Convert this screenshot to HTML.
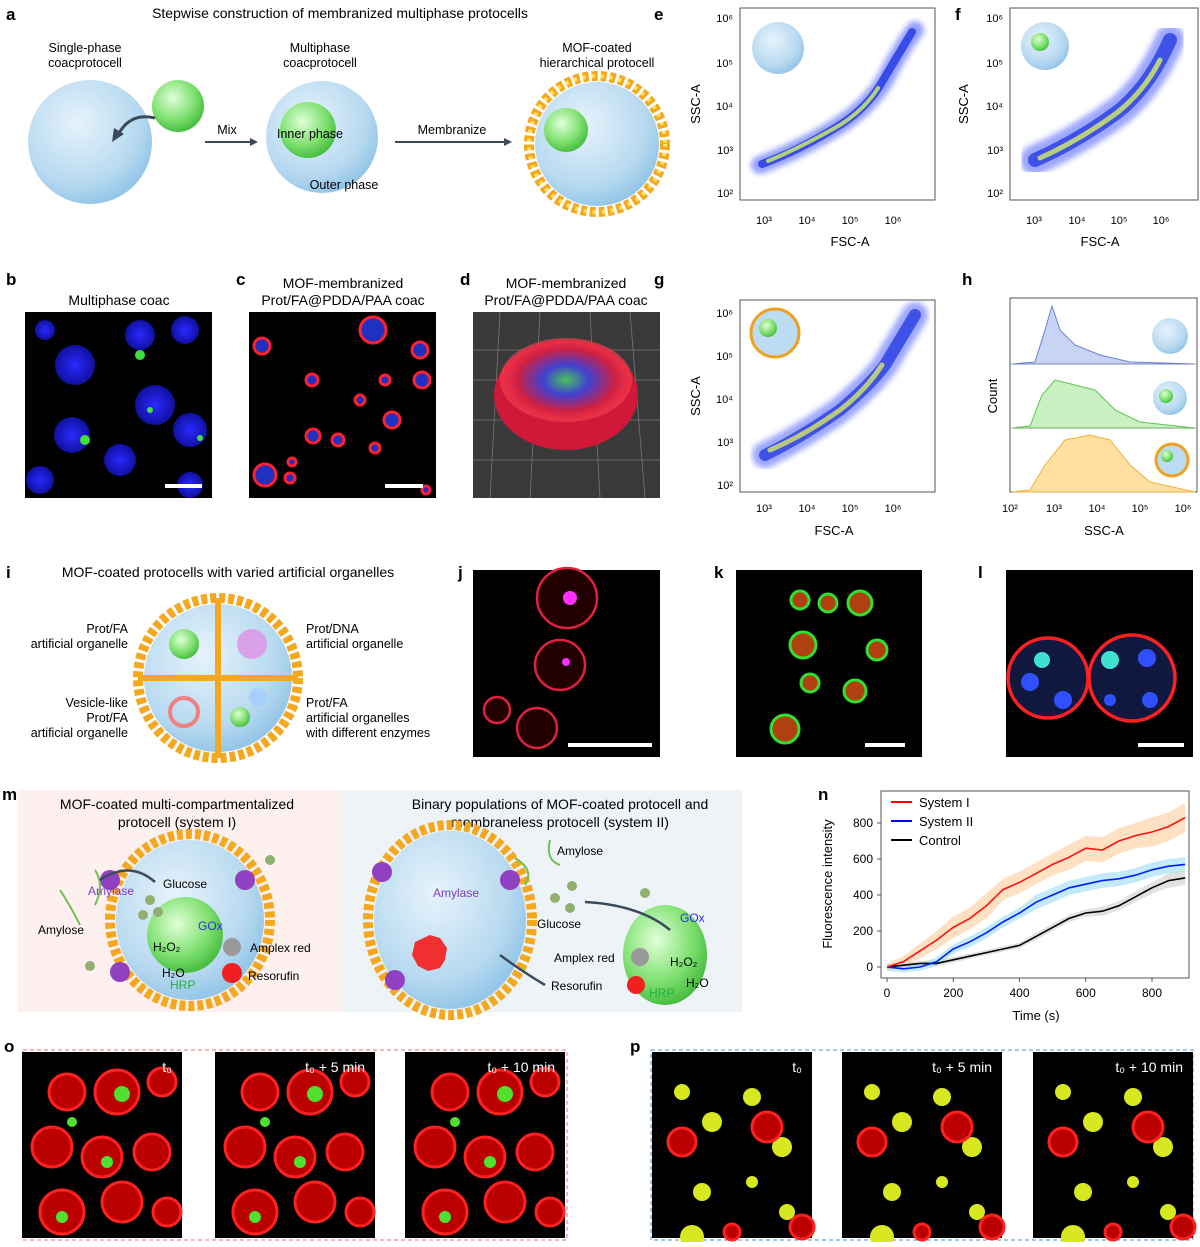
<!DOCTYPE html>
<html><head><meta charset="utf-8"><style>
body{margin:0;background:#fff;font-family:"Liberation Sans",sans-serif}
svg text{font-family:"Liberation Sans",sans-serif}
</style></head><body>
<svg width="1200" height="1242" viewBox="0 0 1200 1242" xmlns="http://www.w3.org/2000/svg">
<defs>
<radialGradient id="gb" cx="0.4" cy="0.35" r="0.7"><stop offset="0" stop-color="#e6f3fb"/><stop offset="0.7" stop-color="#b7d9f0"/><stop offset="1" stop-color="#8cc2e6"/></radialGradient>
<radialGradient id="gg" cx="0.4" cy="0.35" r="0.7"><stop offset="0" stop-color="#e0ffd8"/><stop offset="0.6" stop-color="#7fe070"/><stop offset="1" stop-color="#3fb83a"/></radialGradient>
<radialGradient id="bluecell"><stop offset="0" stop-color="#2a2aff"/><stop offset="1" stop-color="#1010a0"/></radialGradient>
<radialGradient id="disk" cx="0.5" cy="0.5" r="0.5"><stop offset="0" stop-color="#4cc060"/><stop offset="0.35" stop-color="#4040d0"/><stop offset="0.75" stop-color="#d02040"/><stop offset="1" stop-color="#ff4050" stop-opacity="0.6"/></radialGradient>
<filter id="blur"><feGaussianBlur stdDeviation="3"/></filter>
</defs>

<!-- Panel a -->
<g>
<text x="6" y="20" font-size="17" font-weight="bold">a</text>
<text x="340" y="18" font-size="14" text-anchor="middle">Stepwise construction of membranized multiphase protocells</text>
<text x="85" y="52" font-size="12.5" text-anchor="middle">Single-phase</text>
<text x="85" y="67" font-size="12.5" text-anchor="middle">coacprotocell</text>
<circle cx="90" cy="142" r="62" fill="url(#gb)"/>
<circle cx="178" cy="106" r="26" fill="url(#gg)"/>
<path d="M155 118 Q130 112 118 135" stroke="#3a4a5a" stroke-width="3" fill="none"/>
<polygon points="112,142 114,128 124,134" fill="#3a4a5a"/>
<text x="227" y="134" font-size="12.5" text-anchor="middle">Mix</text>
<line x1="205" y1="142" x2="252" y2="142" stroke="#3a4a5a" stroke-width="2"/><polygon points="258,142 250,138 250,146" fill="#3a4a5a"/>
<text x="320" y="52" font-size="12.5" text-anchor="middle">Multiphase</text>
<text x="320" y="67" font-size="12.5" text-anchor="middle">coacprotocell</text>
<circle cx="322" cy="137" r="56" fill="url(#gb)"/>
<circle cx="308" cy="130" r="28" fill="url(#gg)"/>
<text x="310" y="138" font-size="12.5" text-anchor="middle">Inner phase</text>
<text x="344" y="189" font-size="12.5" text-anchor="middle">Outer phase</text>
<text x="452" y="134" font-size="12.5" text-anchor="middle">Membranize</text>
<line x1="395" y1="142" x2="505" y2="142" stroke="#3a4a5a" stroke-width="2"/><polygon points="512,142 504,138 504,146" fill="#3a4a5a"/>
<text x="597" y="52" font-size="12.5" text-anchor="middle">MOF-coated</text>
<text x="597" y="67" font-size="12.5" text-anchor="middle">hierarchical protocell</text>
<circle cx="597" cy="144" r="68" fill="none" stroke="#f4a820" stroke-width="10" stroke-dasharray="6 3"/>
<circle cx="597" cy="144" r="68" fill="none" stroke="#ffe060" stroke-width="4" stroke-dasharray="3 6"/>
<circle cx="597" cy="144" r="62" fill="url(#gb)"/>
<circle cx="566" cy="130" r="22" fill="url(#gg)"/>
</g>

<!-- Panels e,f,g scatter -->
<g>
<text x="654" y="20" font-size="17" font-weight="bold">e</text>
<rect x="740" y="8" width="195" height="192" fill="#fff" stroke="#555"/>
<circle cx="778" cy="48" r="26" fill="url(#gb)"/>
<path d="M760 165 Q800 150 840 125 Q870 105 885 80 Q900 50 915 30" stroke="#3a50ff" stroke-width="18" fill="none" stroke-linecap="round" opacity="0.55" filter="url(#blur)"/>
<path d="M762 164 Q800 150 840 125 Q868 107 882 82 Q895 60 912 32" stroke="#2036e0" stroke-width="8" fill="none" stroke-linecap="round" opacity="0.8"/>
<path d="M768 161 Q800 148 840 125 Q865 109 878 88" stroke="#b0d080" stroke-width="4" fill="none" stroke-linecap="round"/>
<text x="700" y="104" font-size="13" transform="rotate(-90 700 104)" text-anchor="middle">SSC-A</text>
<text x="850" y="246" font-size="13" text-anchor="middle">FSC-A</text>
<g font-size="11" text-anchor="end"><text x="733" y="22">10⁶</text><text x="733" y="67">10⁵</text><text x="733" y="110">10⁴</text><text x="733" y="154">10³</text><text x="733" y="197">10²</text></g>
<g font-size="11" text-anchor="middle"><text x="764" y="224">10³</text><text x="807" y="224">10⁴</text><text x="850" y="224">10⁵</text><text x="893" y="224">10⁶</text></g>
</g>
<g>
<text x="955" y="20" font-size="17" font-weight="bold">f</text>
<rect x="1010" y="8" width="188" height="192" fill="#fff" stroke="#555"/>
<circle cx="1045" cy="46" r="24" fill="url(#gb)"/><circle cx="1040" cy="42" r="9" fill="url(#gg)"/>
<path d="M1035 160 Q1080 140 1120 110 Q1150 85 1170 40" stroke="#3a50ff" stroke-width="30" fill="none" stroke-linecap="round" opacity="0.5" filter="url(#blur)"/>
<path d="M1035 160 Q1080 140 1120 110 Q1150 85 1170 40" stroke="#2036e0" stroke-width="14" fill="none" stroke-linecap="round" opacity="0.75"/>
<path d="M1040 158 Q1080 140 1118 112 Q1145 90 1160 60" stroke="#b8cf80" stroke-width="5" fill="none" stroke-linecap="round"/>
<text x="968" y="104" font-size="13" transform="rotate(-90 968 104)" text-anchor="middle">SSC-A</text>
<text x="1100" y="246" font-size="13" text-anchor="middle">FSC-A</text>
<g font-size="11" text-anchor="end"><text x="1003" y="22">10⁶</text><text x="1003" y="67">10⁵</text><text x="1003" y="110">10⁴</text><text x="1003" y="154">10³</text><text x="1003" y="197">10²</text></g>
<g font-size="11" text-anchor="middle"><text x="1034" y="224">10³</text><text x="1077" y="224">10⁴</text><text x="1119" y="224">10⁵</text><text x="1161" y="224">10⁶</text></g>
</g>
<g>
<text x="654" y="285" font-size="17" font-weight="bold">g</text>
<rect x="740" y="300" width="195" height="192" fill="#fff" stroke="#555"/>
<circle cx="775" cy="333" r="24" fill="#bcdcf2" stroke="#f0a020" stroke-width="3"/><circle cx="768" cy="328" r="9" fill="url(#gg)"/>
<path d="M765 455 Q800 438 840 410 Q870 385 885 365 Q900 340 915 315" stroke="#3a50ff" stroke-width="26" fill="none" stroke-linecap="round" opacity="0.5" filter="url(#blur)"/>
<path d="M765 455 Q800 438 840 410 Q870 385 885 365 Q900 340 915 315" stroke="#2036e0" stroke-width="12" fill="none" stroke-linecap="round" opacity="0.75"/>
<path d="M770 450 Q805 435 840 410 Q866 390 882 365" stroke="#b8c880" stroke-width="5" fill="none" stroke-linecap="round"/>
<text x="700" y="396" font-size="13" transform="rotate(-90 700 396)" text-anchor="middle">SSC-A</text>
<text x="834" y="535" font-size="13" text-anchor="middle">FSC-A</text>
<g font-size="11" text-anchor="end"><text x="733" y="317">10⁶</text><text x="733" y="360">10⁵</text><text x="733" y="403">10⁴</text><text x="733" y="446">10³</text><text x="733" y="489">10²</text></g>
<g font-size="11" text-anchor="middle"><text x="764" y="512">10³</text><text x="807" y="512">10⁴</text><text x="850" y="512">10⁵</text><text x="893" y="512">10⁶</text></g>
</g>
<g>
<text x="962" y="285" font-size="17" font-weight="bold">h</text>
<rect x="1010" y="298" width="187" height="194" fill="#fff" stroke="#555"/>
<path d="M1012 364 L1035 362 L1045 330 L1052 306 L1060 330 L1075 345 L1100 355 L1130 362 L1195 364Z" fill="#c8d4f4" stroke="#6a80e0"/>
<path d="M1012 428 L1030 426 L1042 395 L1055 380 L1075 385 L1095 390 L1115 410 L1140 422 L1195 428Z" fill="#c8f0c0" stroke="#5ac850"/>
<path d="M1012 492 L1030 490 L1045 465 L1065 440 L1090 435 L1110 440 L1130 465 L1150 482 L1195 492Z" fill="#ffe0a0" stroke="#f0b040"/>
<line x1="1010" y1="364" x2="1197" y2="364" stroke="#888" stroke-width="0.6"/><line x1="1010" y1="428" x2="1197" y2="428" stroke="#888" stroke-width="0.6"/>
<circle cx="1170" cy="336" r="18" fill="url(#gb)"/>
<circle cx="1170" cy="398" r="17" fill="url(#gb)"/><circle cx="1166" cy="396" r="7" fill="url(#gg)"/>
<circle cx="1172" cy="460" r="16" fill="#bcdcf2" stroke="#f0a020" stroke-width="3"/><circle cx="1167" cy="456" r="6" fill="url(#gg)"/>
<text x="997" y="396" font-size="13" transform="rotate(-90 997 396)" text-anchor="middle">Count</text>
<text x="1104" y="535" font-size="13" text-anchor="middle">SSC-A</text>
<g font-size="11" text-anchor="middle"><text x="1010" y="512">10²</text><text x="1054" y="512">10³</text><text x="1097" y="512">10⁴</text><text x="1140" y="512">10⁵</text><text x="1183" y="512">10⁶</text></g>
</g>

<!-- b c d -->
<g>
<text x="6" y="285" font-size="17" font-weight="bold">b</text>
<text x="119" y="305" font-size="14" text-anchor="middle">Multiphase coac</text>
<rect x="25" y="312" width="187" height="186" fill="#000"/>
<g fill="url(#bluecell)"><circle cx="75" cy="365" r="20"/><circle cx="140" cy="335" r="15"/><circle cx="185" cy="330" r="14"/><circle cx="155" cy="405" r="20"/><circle cx="72" cy="435" r="18"/><circle cx="120" cy="460" r="16"/><circle cx="190" cy="430" r="17"/><circle cx="40" cy="480" r="14"/><circle cx="190" cy="485" r="13"/><circle cx="45" cy="330" r="10"/></g>
<g fill="#40e040"><circle cx="140" cy="355" r="5"/><circle cx="85" cy="440" r="5"/><circle cx="150" cy="410" r="3"/><circle cx="200" cy="438" r="3"/></g>
<rect x="165" y="484" width="37" height="4" fill="#fff"/>
</g>
<g>
<text x="236" y="285" font-size="17" font-weight="bold">c</text>
<text x="343" y="288" font-size="14" text-anchor="middle">MOF-membranized</text>
<text x="343" y="305" font-size="14" text-anchor="middle">Prot/FA@PDDA/PAA coac</text>
<rect x="249" y="312" width="187" height="186" fill="#000"/>
<g fill="#2030c0" stroke="#ff2030" stroke-width="3"><circle cx="262" cy="346" r="8"/><circle cx="373" cy="330" r="13"/><circle cx="312" cy="380" r="6"/><circle cx="360" cy="400" r="5"/><circle cx="385" cy="380" r="5"/><circle cx="420" cy="350" r="8"/><circle cx="422" cy="380" r="8"/><circle cx="392" cy="420" r="8"/><circle cx="375" cy="448" r="5"/><circle cx="265" cy="475" r="11"/><circle cx="313" cy="436" r="7"/><circle cx="338" cy="440" r="6"/><circle cx="292" cy="462" r="4"/><circle cx="290" cy="478" r="5"/><circle cx="426" cy="490" r="4"/></g>
<rect x="385" y="484" width="38" height="4" fill="#fff"/>
</g>
<g>
<text x="460" y="285" font-size="17" font-weight="bold">d</text>
<text x="566" y="288" font-size="14" text-anchor="middle">MOF-membranized</text>
<text x="566" y="305" font-size="14" text-anchor="middle">Prot/FA@PDDA/PAA coac</text>
<rect x="473" y="312" width="187" height="186" fill="#3a3a3a"/>
<g stroke="#777" stroke-width="0.8"><line x1="473" y1="350" x2="660" y2="350"/><line x1="473" y1="380" x2="660" y2="380"/><line x1="473" y1="420" x2="660" y2="420"/><line x1="473" y1="460" x2="660" y2="460"/><line x1="500" y1="312" x2="490" y2="498"/><line x1="540" y1="312" x2="530" y2="498"/><line x1="590" y1="312" x2="600" y2="498"/><line x1="630" y1="312" x2="645" y2="498"/></g>
<ellipse cx="566" cy="395" rx="72" ry="55" fill="#d01838"/>
<ellipse cx="566" cy="380" rx="66" ry="42" fill="url(#disk)"/>
</g>

<!-- i -->
<g>
<text x="6" y="578" font-size="17" font-weight="bold">i</text>
<text x="228" y="577" font-size="14" text-anchor="middle">MOF-coated protocells with varied artificial organelles</text>
<circle cx="218" cy="678" r="80" fill="none" stroke="#f4a820" stroke-width="10" stroke-dasharray="6 3"/>
<circle cx="218" cy="678" r="74" fill="url(#gb)"/>
<line x1="138" y1="678" x2="298" y2="678" stroke="#f4a820" stroke-width="6"/><line x1="218" y1="598" x2="218" y2="758" stroke="#f4a820" stroke-width="6"/>
<circle cx="184" cy="644" r="15" fill="url(#gg)"/><circle cx="252" cy="644" r="15" fill="#d8a0e8"/>
<circle cx="184" cy="712" r="14" fill="none" stroke="#f08080" stroke-width="4"/><circle cx="240" cy="717" r="10" fill="url(#gg)"/><circle cx="258" cy="697" r="9" fill="#a8d0ff"/>
<g font-size="12.5" text-anchor="end"><text x="128" y="633">Prot/FA</text><text x="128" y="648">artificial organelle</text><text x="128" y="707">Vesicle-like</text><text x="128" y="722">Prot/FA</text><text x="128" y="737">artificial organelle</text></g>
<g font-size="12.5"><text x="306" y="633">Prot/DNA</text><text x="306" y="648">artificial organelle</text><text x="306" y="707">Prot/FA</text><text x="306" y="722">artificial organelles</text><text x="306" y="737">with different enzymes</text></g>
</g>

<!-- j k l -->
<g>
<text x="458" y="578" font-size="17" font-weight="bold">j</text>
<rect x="473" y="570" width="187" height="187" fill="#000"/>
<g fill="#200" stroke="#e02040" stroke-width="2.5"><circle cx="567" cy="598" r="30"/><circle cx="560" cy="665" r="25"/><circle cx="537" cy="728" r="20"/><circle cx="497" cy="710" r="13"/></g>
<circle cx="570" cy="598" r="7" fill="#ff30ff"/><circle cx="566" cy="662" r="4" fill="#ff30ff"/>
<rect x="568" y="743" width="84" height="4" fill="#fff"/>
</g>
<g>
<text x="714" y="578" font-size="17" font-weight="bold">k</text>
<rect x="736" y="570" width="186" height="187" fill="#000"/>
<g fill="#b04010" stroke="#30e030" stroke-width="3"><circle cx="800" cy="600" r="9"/><circle cx="828" cy="603" r="9"/><circle cx="860" cy="603" r="12"/><circle cx="803" cy="645" r="13"/><circle cx="877" cy="650" r="10"/><circle cx="810" cy="683" r="9"/><circle cx="855" cy="691" r="11"/><circle cx="785" cy="729" r="14"/></g>
<rect x="865" y="743" width="40" height="4" fill="#fff"/>
</g>
<g>
<text x="978" y="578" font-size="17" font-weight="bold">l</text>
<rect x="1006" y="570" width="187" height="187" fill="#000"/>
<g fill="#101840" stroke="#ff2020" stroke-width="3.5"><circle cx="1048" cy="678" r="40"/><circle cx="1132" cy="678" r="43"/></g>
<g fill="#3050ff"><circle cx="1030" cy="682" r="9"/><circle cx="1063" cy="700" r="9"/><circle cx="1147" cy="658" r="9"/><circle cx="1150" cy="700" r="8"/><circle cx="1110" cy="700" r="6"/></g>
<g fill="#40e0d0"><circle cx="1042" cy="660" r="8"/><circle cx="1110" cy="660" r="9"/></g>
<rect x="1138" y="743" width="46" height="4" fill="#fff"/>
</g>

<!-- m -->
<g>
<text x="2" y="800" font-size="17" font-weight="bold">m</text>
<rect x="18" y="790" width="324" height="222" fill="#fdf0ef"/>
<rect x="342" y="790" width="400" height="222" fill="#eef3f8"/>
<text x="177" y="809" font-size="14" text-anchor="middle">MOF-coated multi-compartmentalized</text>
<text x="177" y="827" font-size="14" text-anchor="middle">protocell (system I)</text>
<text x="560" y="809" font-size="14" text-anchor="middle">Binary populations of MOF-coated protocell and</text>
<text x="560" y="827" font-size="14" text-anchor="middle">membraneless protocell (system II)</text>
<ellipse cx="190" cy="920" rx="80" ry="86" fill="none" stroke="#f4a820" stroke-width="10" stroke-dasharray="6 3"/>
<ellipse cx="190" cy="920" rx="74" ry="80" fill="url(#gb)"/>
<circle cx="185" cy="935" r="38" fill="url(#gg)"/>
<g fill="#9040c0"><circle cx="110" cy="880" r="10"/><circle cx="245" cy="880" r="10"/><circle cx="120" cy="972" r="10"/></g>
<g fill="#90b070"><circle cx="150" cy="900" r="5"/><circle cx="158" cy="912" r="5"/><circle cx="143" cy="915" r="5"/><circle cx="270" cy="860" r="5"/><circle cx="90" cy="966" r="5"/><circle cx="572" cy="886" r="5"/><circle cx="555" cy="898" r="5"/><circle cx="570" cy="908" r="5"/><circle cx="645" cy="893" r="5"/><circle cx="412" cy="915" r="5"/></g>
<circle cx="232" cy="947" r="9" fill="#999"/><circle cx="232" cy="973" r="10" fill="#f02020"/>
<g font-size="12"><text x="88" y="895" fill="#8040c0">Amylase</text><text x="163" y="888">Glucose</text><text x="38" y="934">Amylose</text><text x="198" y="930" fill="#3030e0">GOx</text><text x="153" y="951">H₂O₂</text><text x="250" y="952">Amplex red</text><text x="162" y="977">H₂O</text><text x="170" y="989" fill="#20b040">HRP</text><text x="248" y="980">Resorufin</text></g>
<path d="M95 905 Q105 885 95 870 M60 890 Q70 905 80 925" stroke="#70c050" stroke-width="2" fill="none"/>
<path d="M100 880 Q130 860 155 882" stroke="#3a4a5a" stroke-width="2.5" fill="none"/>
<ellipse cx="450" cy="920" rx="82" ry="95" fill="none" stroke="#f4a820" stroke-width="10" stroke-dasharray="6 3"/>
<ellipse cx="450" cy="920" rx="76" ry="89" fill="url(#gb)"/>
<g fill="#9040c0"><circle cx="382" cy="872" r="10"/><circle cx="510" cy="880" r="10"/><circle cx="395" cy="980" r="10"/></g>
<polygon points="430,935 440,938 447,948 445,960 440,968 428,971 418,966 412,955 415,942" fill="#f03030"/>
<ellipse cx="665" cy="955" rx="42" ry="50" fill="url(#gg)"/>
<circle cx="640" cy="957" r="9" fill="#999"/><circle cx="636" cy="985" r="9" fill="#f02020"/>
<path d="M515 858 Q535 870 525 885 M550 840 Q545 860 560 865" stroke="#70c050" stroke-width="2" fill="none"/>
<path d="M585 902 Q640 905 670 930" stroke="#3a4a5a" stroke-width="2.5" fill="none"/>
<path d="M545 985 Q520 970 500 955" stroke="#3a4a5a" stroke-width="2.5" fill="none"/>
<g font-size="12"><text x="557" y="855">Amylose</text><text x="433" y="897" fill="#8040c0">Amylase</text><text x="537" y="928">Glucose</text><text x="680" y="922" fill="#3030e0">GOx</text><text x="554" y="962">Amplex red</text><text x="670" y="966">H₂O₂</text><text x="551" y="990">Resorufin</text><text x="686" y="987">H₂O</text><text x="649" y="997" fill="#20b040">HRP</text></g>
</g>

<!-- n chart -->
<g id="chartN">
<text x="818" y="800" font-size="17" font-weight="bold">n</text>
<rect x="881" y="791" width="308" height="187" fill="#fff" stroke="#555"/>
<text x="832" y="884" font-size="13" transform="rotate(-90 832 884)" text-anchor="middle">Fluorescence intensity</text>
<text x="1036" y="1020" font-size="13" text-anchor="middle">Time (s)</text>
<g id="nLayers"></g>
<g font-size="13">
<line x1="891" y1="802" x2="912" y2="802" stroke="#f00" stroke-width="2"/><text x="919" y="807">System I</text>
<line x1="891" y1="821" x2="912" y2="821" stroke="#00f" stroke-width="2"/><text x="919" y="826">System II</text>
<line x1="891" y1="840" x2="912" y2="840" stroke="#000" stroke-width="2"/><text x="919" y="845">Control</text>
</g>
</g>

<!-- o -->
<g>
<text x="4" y="1052" font-size="17" font-weight="bold">o</text>
<rect x="23" y="1050" width="544" height="190" fill="none" stroke="#e07070" stroke-dasharray="4 3"/>
<g id="oImgs"></g>
</g>
<g>
<text x="630" y="1052" font-size="17" font-weight="bold">p</text>
<rect x="651" y="1050" width="542" height="190" fill="none" stroke="#5090d0" stroke-dasharray="4 3"/>
<g id="pImgs"></g>
</g>
</svg>
<script>
// ---- panel n data ----
const times = [0,50,100,150,200,250,300,350,400,450,500,550,600,650,700,750,800,850,900];
const systemI = [0,30,90,150,220,270,340,430,470,520,570,610,660,650,700,730,750,780,830];
const systemII = [0,-10,0,30,100,140,190,250,300,360,400,440,460,480,490,510,540,560,570];
const control = [0,10,20,20,40,60,80,100,120,170,220,270,300,310,340,390,440,480,495];
const bandI = [20,30,40,50,60,60,70,60,60,60,60,70,70,70,70,70,80,80,80];
const bandII = [20,20,20,25,25,30,30,30,30,40,40,40,40,40,40,40,40,40,40];
const bandC = [15,15,15,15,15,15,15,15,15,20,20,20,20,25,25,30,30,40,40];
const xTicks = [0,200,400,600,800];
const yTicks = [0,200,400,600,800];
const NS='http://www.w3.org/2000/svg';
const xS = t => 887 + t*(265/800);
const yS = v => 967 - v*(144/800);
const layer = document.getElementById('nLayers');
function mk(tag, attrs){const e=document.createElementNS(NS,tag);for(const k in attrs)e.setAttribute(k,attrs[k]);return e;}
function band(vals, w, color, name){
  let d='M'+times.map((t,i)=>xS(t)+','+yS(vals[i]+w[i])).join(' L');
  d+=' L'+times.slice().reverse().map((t,j)=>{const i=times.length-1-j;return xS(t)+','+yS(vals[i]-w[i]);}).join(' L')+'Z';
  const p=mk('path',{d:d,fill:color,opacity:0.55});
  
  
  layer.appendChild(p);
}
function line(vals,color,name){
  const p=mk('path',{d:'M'+times.map((t,i)=>xS(t)+','+yS(vals[i])).join(' L'),fill:'none',stroke:color,'stroke-width':1.6});
  
  
  layer.appendChild(p);
}
band(control,bandC,'#c8c8c8','control-band');
band(systemII,bandII,'#90d8f8','system-ii-band');
band(systemI,bandI,'#fcc890','system-i-band');
line(control,'#000','control-line');
line(systemII,'#0020ff','system-ii-line');
line(systemI,'#ff1010','system-i-line');
xTicks.forEach(t=>{
  const tk=mk('line',{x1:xS(t),x2:xS(t),y1:978,y2:982,stroke:'#555'});
  
  
  layer.appendChild(tk);
  const tx=mk('text',{x:xS(t),y:997,'font-size':12,'text-anchor':'middle'});tx.textContent=t;
  
  
  layer.appendChild(tx);
});
yTicks.forEach(v=>{
  const tk=mk('line',{x1:877,x2:881,y1:yS(v),y2:yS(v),stroke:'#555'});
  
  
  layer.appendChild(tk);
  const tx=mk('text',{x:873,y:yS(v)+4,'font-size':12,'text-anchor':'end'});tx.textContent=v;
  
  
  layer.appendChild(tx);
});
// ---- micrograph panels o and p (illustrative) ----
function micro(gid, xs, labels, cells, fillC, strokeC){
  const g=document.getElementById(gid);
  xs.forEach((x0,k)=>{
    const r=mk('rect',{x:x0,y:1052,width:160,height:186,fill:'#000'});
    
    
    g.appendChild(r);
    cells.forEach(c=>{
      const ci=mk('circle',{cx:x0+c[0],cy:1052+c[1],r:c[2],fill:c[3]?fillC:'#b00',stroke:c[3]?'none':strokeC,'stroke-width':3});
      
      
      g.appendChild(ci);
    });
    const t=mk('text',{x:x0+150,y:1072,'font-size':14,fill:'#fff','text-anchor':'end'});t.textContent=labels[k];
    
    
    g.appendChild(t);
  });
}
micro('oImgs',[22,215,405],['t₀','t₀ + 5 min','t₀ + 10 min'],
 [[45,40,18,0],[95,40,22,0],[140,30,14,0],[30,95,20,0],[80,105,20,0],[130,100,18,0],[40,160,22,0],[100,150,20,0],[145,160,14,0],[50,70,5,1],[100,42,8,1],[85,110,6,1],[40,165,6,1]],'#50e030','#ff2020');
micro('pImgs',[652,842,1033],['t₀','t₀ + 5 min','t₀ + 10 min'],
 [[30,40,8,1],[60,70,10,1],[100,45,9,1],[130,95,10,1],[50,140,9,1],[100,130,6,1],[30,90,14,0],[115,75,15,0],[40,185,12,1],[135,160,8,1],[80,180,8,0],[150,175,12,0]],'#d8e820','#ff2020');
</script>
</body></html>
